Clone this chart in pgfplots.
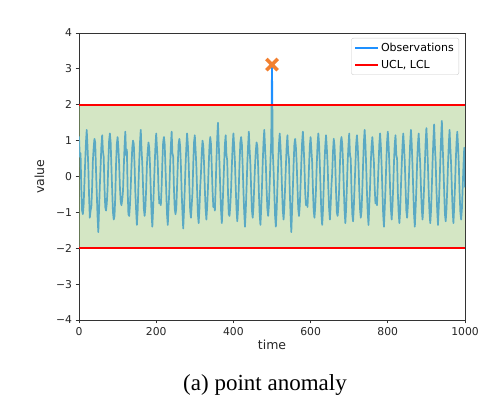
\documentclass[border=0pt]{standalone}
\usepackage{fontspec}
\setmainfont{DejaVu Sans}
\newfontfamily\capfont{Liberation Serif}
\usepackage{pgfplots}
\pgfplotsset{compat=1.18}

\definecolor{obsblue}{HTML}{1E90FF}
\definecolor{bandgreen}{HTML}{A1C87F}
\definecolor{anomorange}{HTML}{F28030}

\begin{document}
\begin{tikzpicture}
\begin{axis}[
    scale only axis,
    width=386pt, height=287pt,
    at={(0,0)}, anchor=south west,
    xmin=0, xmax=1000,
    ymin=-4, ymax=4,
    xtick={0,200,400,600,800,1000},
    ytick={-4,-3,-2,-1,0,1,2,3,4},
    yticklabels={−4,−3,−2,−1,0,1,2,3,4},
    xtick pos=bottom, ytick pos=left,
    tick align=outside,
    major tick length=3.5pt,
    axis line style={black!80, line width=0.8pt},
    every tick/.style={black!80, line width=0.8pt},
    /pgf/number format/assume math mode=true,
    /pgf/number format/1000 sep={},
    tick label style={font=\fontsize{10.8}{12}\selectfont, text=black!85},
    label style={font=\fontsize{12.5}{14}\selectfont, text=black!85},
    xlabel={time},
    ylabel={value},
    xlabel style={yshift=2pt},
    ylabel style={yshift=5pt},
    legend style={
        at={(1,1)}, anchor=north east, xshift=-6pt, yshift=-5pt,
        draw=black!20, rounded corners=2pt, fill=white, fill opacity=0.8, text opacity=1,
        font=\fontsize{11}{13}\selectfont,
        inner xsep=3pt, inner ysep=3pt,
        row sep=3pt,
    },
    legend cell align=left,
    legend image code/.code={\draw[#1] (0pt,0pt) -- (23pt,0pt);},
]
\addlegendimage{obsblue, line width=1.6pt}
\addlegendentry{Observations}
\addlegendimage{red, line width=1.6pt}
\addlegendentry{UCL, LCL}
\addplot[obsblue, line width=1.7pt, line join=round, forget plot] coordinates {
(0,1.12) (2,0.55) (4,0.65) (6,-0.35) (8,-0.95) (10,-1.05) (12,-0.80) (14,-0.20) (16,0.40) (18,0.95)
(20,1.30) (22,0.85) (24,0.30) (26,-0.50) (28,-1.15) (30,-0.95) (32,-0.85) (34,-0.30) (36,0.45) (38,0.80)
(40,1.05) (42,0.95) (44,0.20) (46,-0.45) (48,-1.10) (50,-1.55) (52,-0.90) (54,-0.25) (56,0.30) (58,0.85)
(60,1.15) (62,0.70) (64,0.55) (66,-0.30) (68,-0.85) (70,-0.95) (72,-0.75) (74,-0.35) (76,0.40) (78,1.00)
(80,1.20) (82,0.95) (84,0.25) (86,-0.40) (88,-1.00) (90,-1.20) (92,-1.10) (94,-0.55) (96,0.35) (98,0.90)
(100,1.10) (102,0.80) (104,0.35) (106,-0.30) (108,-0.70) (110,-0.80) (112,-0.65) (114,-0.40) (116,0.25) (118,0.85)
(120,1.25) (122,0.60) (124,0.75) (126,-0.35) (128,-1.05) (130,-1.10) (132,-0.80) (134,-0.30) (136,0.30) (138,0.80)
(140,1.00) (142,0.90) (144,0.30) (146,-0.45) (148,-0.95) (150,-1.35) (152,-0.95) (154,-0.25) (156,0.40) (158,0.95)
(160,1.30) (162,0.75) (164,0.35) (166,-0.30) (168,-0.90) (170,-1.10) (172,-0.85) (174,-0.35) (176,0.35) (178,0.70)
(180,0.95) (182,0.80) (184,0.30) (186,-0.40) (188,-1.05) (190,-1.40) (192,-0.90) (194,-0.30) (196,0.30) (198,0.85)
(200,1.20) (202,0.80) (204,0.40) (206,-0.35) (208,-0.75) (210,-0.70) (212,-0.80) (214,-0.30) (216,0.40) (218,0.95)
(220,1.10) (222,0.90) (224,0.25) (226,-0.40) (228,-1.05) (230,-1.35) (232,-0.85) (234,-0.40) (236,0.30) (238,0.85)
(240,1.25) (242,0.65) (244,0.55) (246,-0.35) (248,-0.90) (250,-1.05) (252,-0.90) (254,-0.30) (256,0.35) (258,0.90)
(260,1.05) (262,0.85) (264,0.30) (266,-0.45) (268,-1.00) (270,-1.45) (272,-0.95) (274,-0.35) (276,0.30) (278,0.80)
(280,1.20) (282,0.90) (284,0.40) (286,-0.30) (288,-0.95) (290,-1.15) (292,-0.80) (294,-0.45) (296,0.35) (298,0.95)
(300,1.15) (302,0.75) (304,0.30) (306,-0.40) (308,-1.05) (310,-1.30) (312,-0.90) (314,-0.30) (316,0.10) (318,0.65)
(320,1.00) (322,0.85) (324,0.35) (326,-0.35) (328,-0.90) (330,-1.20) (332,-0.85) (334,-0.35) (336,0.30) (338,0.85)
(340,1.10) (342,0.90) (344,0.25) (346,-0.40) (348,-0.85) (350,-0.75) (352,-0.95) (354,-0.30) (356,0.45) (358,1.05)
(360,1.50) (362,0.90) (364,0.35) (366,-0.35) (368,-0.95) (370,-1.30) (372,-0.85) (374,-0.25) (376,0.35) (378,0.90)
(380,1.15) (382,0.60) (384,0.45) (386,-0.45) (388,-1.05) (390,-1.10) (392,-0.80) (394,-0.35) (396,0.30) (398,0.85)
(400,1.20) (402,0.85) (404,0.40) (406,-0.30) (408,-0.90) (410,-1.25) (412,-0.90) (414,-0.30) (416,0.40) (418,0.95)
(420,1.10) (422,0.90) (424,0.30) (426,-0.40) (428,-1.00) (430,-1.40) (432,-0.95) (434,-0.35) (436,0.35) (438,0.85)
(440,1.25) (442,0.75) (444,0.35) (446,-0.35) (448,-0.95) (450,-1.15) (452,-0.85) (454,-0.25) (456,0.30) (458,0.70)
(460,0.95) (462,0.85) (464,0.30) (466,-0.45) (468,-1.05) (470,-1.35) (472,-0.90) (474,-0.30) (476,0.40) (478,0.95)
(480,1.30) (482,0.80) (484,0.35) (486,-0.35) (488,-0.90) (490,-1.10) (492,-0.80) (494,-0.20) (496,0.45) (498,1.00)
(500,3.12) (502,0.70) (504,0.20) (506,-0.45) (508,-1.10) (510,-1.40) (512,-0.95) (514,-0.30) (516,0.35) (518,0.90)
(520,1.20) (522,0.85) (524,0.35) (526,-0.35) (528,-0.95) (530,-1.20) (532,-0.85) (534,-0.30) (536,0.30) (538,0.85)
(540,1.15) (542,0.65) (544,0.50) (546,-0.40) (548,-1.05) (550,-1.55) (552,-0.95) (554,-0.35) (556,0.35) (558,0.90)
(560,1.05) (562,0.80) (564,0.35) (566,-0.30) (568,-0.90) (570,-1.10) (572,-0.80) (574,-0.25) (576,0.40) (578,0.95)
(580,1.25) (582,0.85) (584,0.30) (586,-0.45) (588,-0.80) (590,-0.70) (592,-0.85) (594,-0.30) (596,0.30) (598,0.85)
(600,1.10) (602,0.75) (604,0.40) (606,-0.35) (608,-0.95) (610,-1.15) (612,-0.85) (614,-0.35) (616,0.35) (618,0.90)
(620,1.20) (622,0.90) (624,0.30) (626,-0.40) (628,-1.05) (630,-1.35) (632,-0.95) (634,-0.30) (636,0.40) (638,0.85)
(640,1.15) (642,0.80) (644,0.35) (646,-0.35) (648,-0.90) (650,-1.20) (652,-0.80) (654,-0.25) (656,0.10) (658,0.70)
(660,1.05) (662,0.85) (664,0.30) (666,-0.45) (668,-1.00) (670,-1.10) (672,-0.85) (674,-0.35) (676,0.35) (678,0.95)
(680,1.10) (682,0.90) (684,0.40) (686,-0.30) (688,-0.95) (690,-1.30) (692,-0.90) (694,-0.30) (696,0.40) (698,0.85)
(700,1.20) (702,0.60) (704,0.50) (706,-0.40) (708,-1.05) (710,-1.25) (712,-0.85) (714,-0.25) (716,0.30) (718,0.90)
(720,1.15) (722,0.85) (724,0.35) (726,-0.35) (728,-0.90) (730,-1.15) (732,-0.95) (734,-0.35) (736,0.35) (738,0.95)
(740,1.30) (742,0.90) (744,0.30) (746,-0.45) (748,-1.00) (750,-1.35) (752,-0.80) (754,-0.30) (756,0.40) (758,0.85)
(760,1.10) (762,0.75) (764,0.40) (766,-0.30) (768,-0.75) (770,-0.65) (772,-0.80) (774,-0.25) (776,0.30) (778,0.90)
(780,1.20) (782,0.85) (784,0.30) (786,-0.40) (788,-1.05) (790,-1.40) (792,-0.90) (794,-0.35) (796,0.35) (798,0.95)
(800,1.25) (802,0.90) (804,0.35) (806,-0.35) (808,-0.90) (810,-1.20) (812,-0.85) (814,-0.30) (816,0.40) (818,0.90)
(820,1.15) (822,0.60) (824,0.50) (826,-0.45) (828,-1.00) (830,-1.30) (832,-0.95) (834,-0.30) (836,0.30) (838,0.85)
(840,1.20) (842,0.85) (844,0.40) (846,-0.30) (848,-0.95) (850,-1.15) (852,-0.80) (854,-0.25) (856,0.35) (858,0.95)
(860,1.30) (862,0.90) (864,0.30) (866,-0.40) (868,-1.05) (870,-1.40) (872,-0.90) (874,-0.35) (876,0.40) (878,0.90)
(880,1.20) (882,0.75) (884,0.35) (886,-0.35) (888,-0.90) (890,-1.20) (892,-0.85) (894,-0.30) (896,0.35) (898,0.95)
(900,1.35) (902,0.90) (904,0.30) (906,-0.45) (908,-1.00) (910,-1.30) (912,-0.95) (914,-0.30) (916,0.40) (918,1.00)
(920,1.45) (922,0.85) (924,0.40) (926,-0.35) (928,-0.95) (930,-1.35) (932,-0.85) (934,-0.25) (936,0.45) (938,1.05)
(940,1.55) (942,0.90) (944,0.30) (946,-0.40) (948,-1.05) (950,-1.25) (952,-0.90) (954,-0.35) (956,0.35) (958,0.90)
(960,1.30) (962,0.80) (964,0.35) (966,-0.35) (968,-0.95) (970,-1.30) (972,-0.85) (974,-0.30) (976,0.40) (978,0.95)
(980,1.25) (982,0.85) (984,0.30) (986,-0.45) (988,-1.00) (990,-1.20) (992,-0.90) (994,-0.30) (996,0.30) (998,0.80)
(1000,-0.30)
};
% control band, drawn over the series
\addplot[draw=none, fill=bandgreen, fill opacity=0.46, forget plot] coordinates {
(0,-2) (1000,-2) (1000,2) (0,2) (0,-2)
};
\addplot[red, line width=1.6pt, forget plot] coordinates {(0,2) (1000,2)};
\addplot[red, line width=1.6pt, forget plot] coordinates {(0,-2) (1000,-2)};
\addplot[only marks, mark=x, mark size=8pt, line width=3.6pt, anomorange, forget plot] coordinates {(500,3.12)};
\end{axis}
\node[anchor=base, font=\capfont\fontsize{23}{26}\selectfont] at (186pt,-71pt) {(a) point anomaly};
\path[use as bounding box] (-79pt,-97pt) rectangle (419pt,320pt);
\end{tikzpicture}
\end{document}
